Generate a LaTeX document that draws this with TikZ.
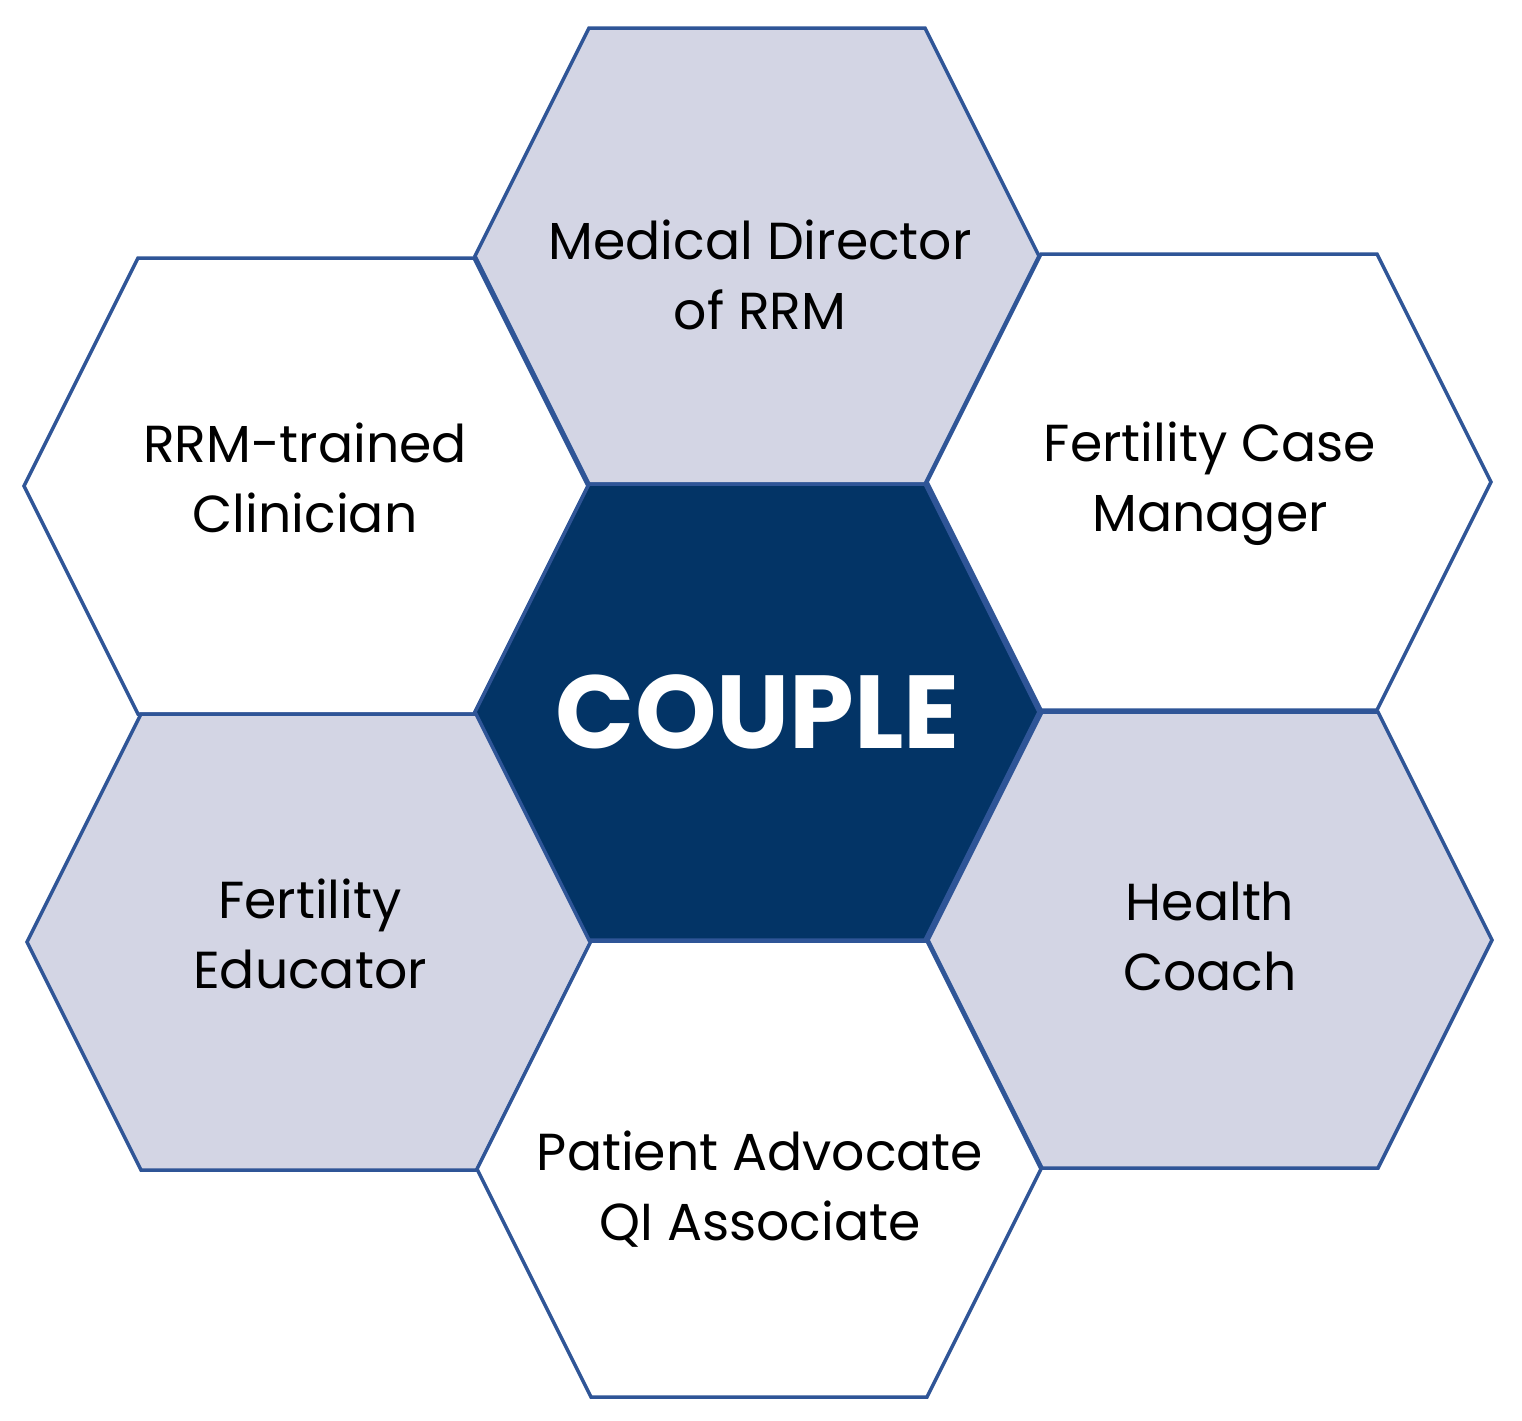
\documentclass[tikz,border=0pt]{standalone}
\usepackage{fontspec}
\setmainfont{Poppins}
\definecolor{hexline}{HTML}{2F5597}
\definecolor{hexlight}{HTML}{D3D5E4}
\definecolor{hexdark}{HTML}{033466}
\newcommand\hexshape[2]{(#1-168,#2-228) -- (#1+168,#2-228) -- (#1+282,#2) -- (#1+168,#2+228) -- (#1-168,#2+228) -- (#1-282,#2) -- cycle}
\tikzset{
  hexlinestyle/.style={draw=hexline, line width=0.035cm, line join=miter},
  rolelabel/.style={align=center, font=\fontsize{14.8}{19.9}\selectfont, text=black},
}
\begin{document}
\begin{tikzpicture}[x=0.01cm,y=-0.01cm]
\useasboundingbox (0,0) rectangle (1522,1420);
\fill[white] (0,0) rectangle (1522,1420);
% outer hexagons
\path[hexlinestyle, fill=hexlight] \hexshape{757}{256};
\path[hexlinestyle, fill=white] \hexshape{306}{486};
\path[hexlinestyle, fill=white] \hexshape{1209}{482};
\path[hexlinestyle, fill=hexlight] \hexshape{309}{942};
\path[hexlinestyle, fill=hexlight] \hexshape{1210}{940};
\path[hexlinestyle, fill=white] \hexshape{759}{1169};
% center
\path[hexlinestyle, fill=hexdark] \hexshape{757}{712};
% labels
\node[rolelabel] (med) at (760,275) {Medical Director\\of RRM};
\node[rolelabel] (rrm) at (305,478) {RRM-trained\\Clinician};
\node[rolelabel] (fcm) at (1210,484) {Fertility Case\\Manager};
\node[rolelabel] (fed) at (310,934) {Fertility\\Educator};
\node[rolelabel] (hc) at (1210,936) {Health\\Coach};
\node[rolelabel] (pa) at (760,1189) {Patient Advocate\\QI Associate};
\node[font=\fontsize{29.5}{34}\selectfont\bfseries, text=white] (couple) at (758,712) {COUPLE};
\end{tikzpicture}
\end{document}
